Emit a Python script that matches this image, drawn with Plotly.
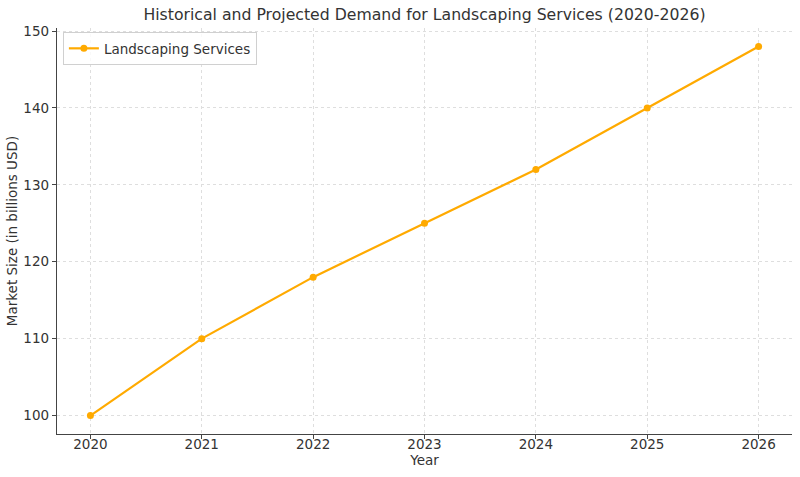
import plotly.graph_objects as go

years = [2020, 2021, 2022, 2023, 2024, 2025, 2026]
market_size = [100, 110, 118, 125, 132, 140, 148]
series_name = "Landscaping Services"
title_text = "Historical and Projected Demand for Landscaping Services (2020-2026)"

color = "#ffaa00"
fig = go.Figure()
fig.add_trace(go.Scatter(
    x=years, y=market_size, mode="lines+markers", name=series_name,
    line=dict(color=color, width=2.2), marker=dict(color=color, size=7),
))

grid = dict(showgrid=True, gridcolor="#dedede", griddash="dot", gridwidth=1)
fig.update_layout(
    width=800, height=477,
    margin=dict(l=57, r=8, t=28, b=43),
    paper_bgcolor="white", plot_bgcolor="white",
    font=dict(family="DejaVu Sans", size=13, color="#333333"),
    title=dict(text=title_text, x=0.5, xref="paper", xanchor="center", y=0.969, yanchor="middle",
               font=dict(size=15.7, color="#333333")),
    showlegend=True,
    legend=dict(x=0.008, y=0.99, xanchor="left", yanchor="top",
                bordercolor="#d0d0d0", borderwidth=1, bgcolor="rgba(255,255,255,0.8)",
                font=dict(size=13.5)),
    xaxis=dict(range=[2019.7, 2026.3], tickmode="array", tickvals=years,
               ticktext=[str(y) for y in years], showline=True, linecolor="#444444",
               linewidth=1.3, ticks="outside", ticklen=4, tickcolor="#444444",
               tickfont=dict(size=13.5), automargin=False, ticklabelstandoff=-6,
               zeroline=False, title=dict(text="Year", standoff=2, font=dict(size=13.5)), **grid),
    yaxis=dict(range=[97.6, 150.4], tickvals=[100, 110, 120, 130, 140, 150],
               showline=True, linecolor="#444444", linewidth=1.3, ticks="outside",
               ticklen=4, tickcolor="#444444", zeroline=False,
               tickfont=dict(size=13.5), automargin=False,
               title=dict(text="Market Size (in billions USD)", standoff=2, font=dict(size=13.5)), **grid),
)
fig.write_html("out.html")
